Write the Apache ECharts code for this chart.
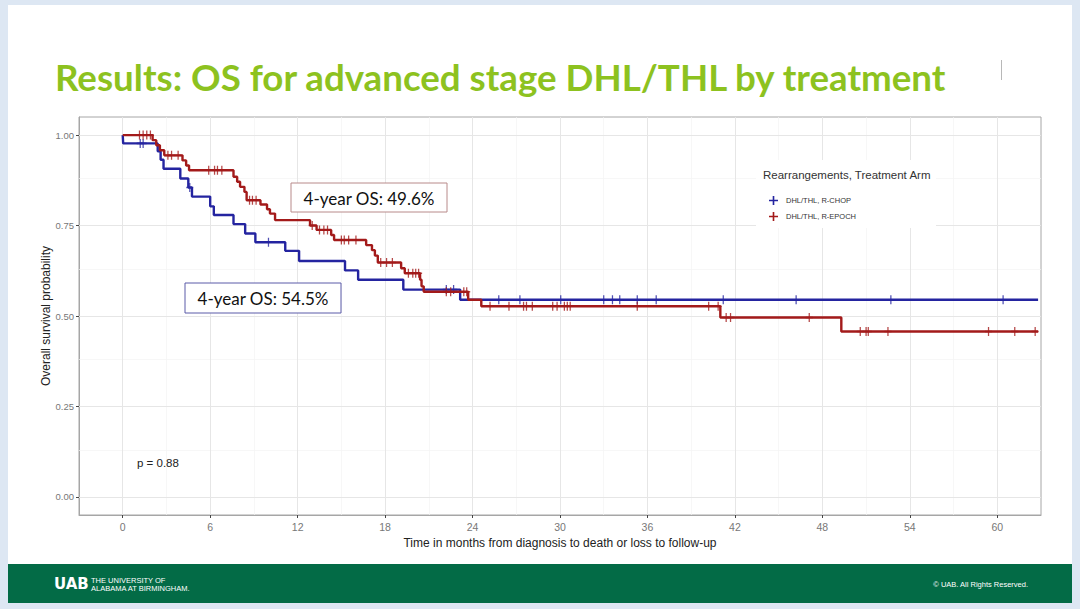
<!DOCTYPE html>
<html>
<head>
<meta charset="utf-8">
<script src="https://cdn.jsdelivr.net/npm/echarts@6/dist/echarts.min.js"></script>
<style>html,body{margin:0;padding:0;background:#dde7f3;}#c{width:1080px;height:609px;}</style>
</head>
<body>
<div id="c"></div>
<script>
// ---------- data ----------
const slideTitle = 'Results: OS for advanced stage DHL/THL by treatment';
const xTitle = 'Time in months from diagnosis to death or loss to follow-up';
const yTitle = 'Overall survival probability';
const legendTitle = 'Rearrangements, Treatment Arm';
const seriesNames = ['DHL/THL, R-CHOP', 'DHL/THL, R-EPOCH'];
const xTicks = [0, 6, 12, 18, 24, 30, 36, 42, 48, 54, 60];
const xMinorTicks = [3, 9, 15, 21, 27, 33, 39, 45, 51, 57];
const yTicks = [0, 0.25, 0.5, 0.75, 1.0];
const yMinorTicks = [0.125, 0.375, 0.625, 0.875];

// R-CHOP (blue) step curve
const chopTime = [0, 0.03, 2.4, 2.6, 2.8, 3.95, 4.5, 4.75, 6.0, 6.25, 7.6, 8.4, 9.1, 11.15, 12.1, 15.25, 16.15, 19.25, 23.15, 62.8];
const chopSurv = [1.0, 0.977, 0.955, 0.932, 0.907, 0.880, 0.855, 0.830, 0.803, 0.779, 0.754, 0.728, 0.704, 0.680, 0.652, 0.626, 0.600, 0.573, 0.545, 0.545];
const chopCensor = [1.2, 1.4, 4.6, 10.0, 22.2, 22.7, 25.8, 27.25, 30.05, 33.0, 33.6, 34.1, 35.3, 36.6, 41.2, 46.2, 52.7, 60.4];

// R-EPOCH (red) step curve
const epochTime = [0, 2.05, 2.3, 2.55, 2.85, 4.1, 4.35, 4.55, 7.6, 7.85, 8.05, 8.35, 8.5, 9.45, 9.9, 10.1, 10.45, 12.85, 13.3, 14.3, 14.5, 16.7, 17.1, 17.3, 17.5, 19.1, 19.35, 20.4, 20.5, 20.65, 23.7, 24.6, 41.0, 49.3, 62.8];
const epochSurv = [1.0, 0.986, 0.972, 0.958, 0.944, 0.930, 0.916, 0.903, 0.885, 0.871, 0.857, 0.843, 0.820, 0.808, 0.795, 0.783, 0.765, 0.750, 0.738, 0.724, 0.710, 0.696, 0.682, 0.667, 0.648, 0.632, 0.618, 0.600, 0.582, 0.567, 0.545, 0.527, 0.496, 0.457, 0.457];
const epochCensor = [1.15, 1.4, 1.65, 1.9, 3.1, 3.35, 3.8, 5.9, 6.3, 6.5, 6.8, 8.7, 8.9, 9.15, 13.0, 13.5, 13.8, 14.05, 15.0, 15.2, 15.5, 16.0, 17.7, 18.1, 18.5, 19.6, 19.9, 20.1, 20.3, 22.2, 22.5, 23.4, 23.6, 25.2, 26.5, 27.5, 27.7, 28.1, 29.5, 29.8, 30.3, 30.5, 30.7, 35.3, 40.2, 40.85, 41.4, 41.7, 47.1, 50.6, 51.0, 51.15, 52.5, 59.4, 61.2, 62.6];

const annotations = ['4-year OS: 49.6%', '4-year OS: 54.5%'];
const pText = 'p = 0.88';

// ---------- build ----------
const BLUE = '#2424a0', RED = '#a31a1a';
const FONT = "'Liberation Sans', Arial, sans-serif";
const plusPath = 'path://M0,4.1H10V5.9H0Z M4.1,0H5.9V10H4.1Z';
function survAt(ts, ss, t) { let s = ss[0]; for (let i = 0; i < ts.length; i++) { if (ts[i] <= t) s = ss[i]; } return s; }
const chopLine = chopTime.map((t, i) => [t, chopSurv[i]]);
const epochLine = epochTime.map((t, i) => [t, epochSurv[i]]);
const chopMarks = chopCensor.map(t => [t, survAt(chopTime, chopSurv, t)]);
const epochMarks = epochCensor.map(t => [t, survAt(epochTime, epochSurv, t)]);

const gridMajor = { color: '#e6e6e6', width: 1, type: 'solid' };
const gridMinor = { color: '#f3f3f3', width: 0.7, type: 'solid' };
const gridLines = [].concat(
  xMinorTicks.map(v => ({ xAxis: v, lineStyle: gridMinor })),
  yMinorTicks.map(v => ({ yAxis: v, lineStyle: gridMinor })),
  xTicks.map(v => ({ xAxis: v, lineStyle: gridMajor })),
  yTicks.map(v => ({ yAxis: v, lineStyle: gridMajor }))
);

const chart = echarts.init(document.getElementById('c'), null, { renderer: 'svg', width: 1080, height: 609 });
const option = {
  animation: false,
  backgroundColor: '#dde7f3',
  grid: { left: 79, top: 117, width: 962, height: 398, show: true, backgroundColor: '#ffffff', borderColor: '#a6a6a6', borderWidth: 1 },
  xAxis: {
    type: 'value', min: -3, max: 63,
    splitLine: { show: false },
    axisLine: { show: true, onZero: false, lineStyle: { color: '#a6a6a6', width: 1 } },
    axisTick: { show: true, customValues: xTicks, length: 3, lineStyle: { color: '#444' } },
    axisLabel: { customValues: xTicks, color: '#777', fontSize: 10.5, margin: 6, fontFamily: FONT },
    name: xTitle, nameLocation: 'middle', nameGap: 20,
    nameTextStyle: { color: '#222', fontSize: 12, fontFamily: FONT }
  },
  yAxis: {
    type: 'value', min: -0.05, max: 1.05,
    splitLine: { show: false },
    axisLine: { show: true, onZero: false, lineStyle: { color: '#a6a6a6', width: 1 } },
    axisTick: { show: true, customValues: yTicks, length: 3, lineStyle: { color: '#444' } },
    axisLabel: { customValues: yTicks, formatter: v => Number(v).toFixed(2), color: '#777', fontSize: 9.5, margin: 5, fontFamily: FONT },
    name: yTitle, nameLocation: 'middle', nameRotate: 90, nameGap: 27, nameMoveOverlap: false,
    nameTextStyle: { color: '#222', fontSize: 12, fontFamily: FONT }
  },
  legend: {
    data: seriesNames, orient: 'vertical', left: 764, top: 191, itemGap: 7,
    itemWidth: 15, itemHeight: 9, icon: plusPath, z: 20,
    textStyle: { fontSize: 7.5, color: '#333', fontFamily: FONT }
  },
  series: [
    { type: 'scatter', data: [], silent: true,
      markLine: { silent: true, symbol: ['none', 'none'], z: 1, label: { show: false }, animation: false, data: gridLines } },
    { name: seriesNames[0], type: 'line', step: 'end', data: chopLine, showSymbol: false, z: 3,
      lineStyle: { color: BLUE, width: 2.4 }, itemStyle: { color: BLUE } },
    { name: seriesNames[0], type: 'scatter', data: chopMarks, symbol: plusPath, symbolSize: [7, 9], z: 4,
      itemStyle: { color: BLUE } },
    { name: seriesNames[1], type: 'line', step: 'end', data: epochLine, showSymbol: false, z: 5,
      lineStyle: { color: RED, width: 2.4 }, itemStyle: { color: RED } },
    { name: seriesNames[1], type: 'scatter', data: epochMarks, symbol: plusPath, symbolSize: [7, 9], z: 6,
      itemStyle: { color: RED } }
  ],
  graphic: [
    { type: 'rect', z: -1, shape: { x: 8, y: 5, width: 1064, height: 560 }, style: { fill: '#ffffff' } },
    { type: 'text', z: 30, x: 55, y: 77, style: { text: slideTitle, font: "bold 36.7px Lato, 'Open Sans', sans-serif", fill: '#8dc21f', textVerticalAlign: 'middle' } },
    { type: 'line', z: 30, shape: { x1: 1001.5, y1: 60, x2: 1001.5, y2: 80 }, style: { stroke: '#b8b8b8', lineWidth: 1 } },
    // legend background + title
    { type: 'rect', z: 10, shape: { x: 756, y: 160, width: 180, height: 68 }, style: { fill: '#ffffff' } },
    { type: 'text', z: 21, x: 763, y: 175, style: { text: legendTitle, font: '11.5px ' + FONT, fill: '#333', textVerticalAlign: 'middle' } },
    // annotation boxes
    { type: 'rect', z: 30, shape: { x: 291, y: 183, width: 156, height: 29 }, style: { fill: '#ffffff', stroke: '#b88a8a', lineWidth: 1 } },
    { type: 'text', z: 31, x: 369, y: 198, style: { text: annotations[0], font: "17px Lato, 'Open Sans', sans-serif", fill: '#111', textAlign: 'center', textVerticalAlign: 'middle' } },
    { type: 'rect', z: 30, shape: { x: 185, y: 283, width: 156, height: 30 }, style: { fill: '#ffffff', stroke: '#5a5aa8', lineWidth: 1 } },
    { type: 'text', z: 31, x: 263, y: 298, style: { text: annotations[1], font: "17px Lato, 'Open Sans', sans-serif", fill: '#111', textAlign: 'center', textVerticalAlign: 'middle' } },
    { type: 'text', z: 31, x: 137, y: 463, style: { text: pText, font: '11.5px ' + FONT, fill: '#222', textVerticalAlign: 'middle' } },
    // footer
    { type: 'rect', z: 30, shape: { x: 8, y: 564, width: 1064, height: 39 }, style: { fill: '#036b46' } },
    { type: 'text', z: 31, x: 54, y: 584, style: { text: 'UAB', font: "900 15px 'DejaVu Sans', sans-serif", fill: '#ffffff', textVerticalAlign: 'middle' } },
    { type: 'text', z: 31, x: 91, y: 580, style: { text: 'THE UNIVERSITY OF', font: "7.5px 'Liberation Sans Narrow', 'Liberation Sans', Arial", fill: '#ffffff', textVerticalAlign: 'middle' } },
    { type: 'text', z: 31, x: 91, y: 588, style: { text: 'ALABAMA AT BIRMINGHAM.', font: "7.5px 'Liberation Sans Narrow', 'Liberation Sans', Arial", fill: '#ffffff', textVerticalAlign: 'middle' } },
    { type: 'text', z: 31, x: 1028, y: 584, style: { text: '© UAB. All Rights Reserved.', font: "7.5px 'Liberation Sans', Arial", fill: '#ffffff', textAlign: 'right', textVerticalAlign: 'middle' } }
  ]
};
chart.setOption(option);
</script>
</body>
</html>
